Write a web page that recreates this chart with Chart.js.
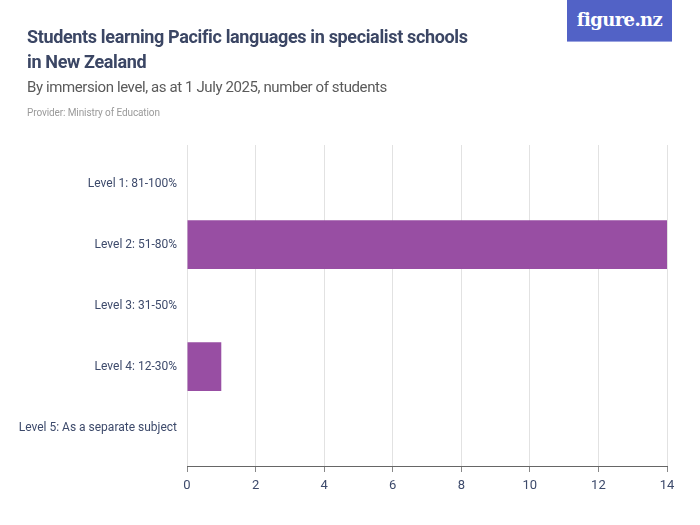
<!DOCTYPE html>
<html>
<head>
<meta charset="utf-8">
<script src="https://cdn.jsdelivr.net/npm/chart.js@4"></script>
<style>
body{margin:0;background:#fff;}
#wrap{position:relative;width:700px;height:525px;overflow:hidden;font-family:"Roboto",sans-serif;}
#title{position:absolute;left:27px;top:24px;font-size:18px;line-height:25px;color:#3b4664;font-weight:bold;letter-spacing:-0.35px;}
#sub{position:absolute;left:27px;top:78px;font-size:15px;color:#5a5a5a;letter-spacing:-0.4px;}
#prov{position:absolute;left:27px;top:107px;font-size:10px;color:#9a9a9a;letter-spacing:-0.1px;}
#logo{position:absolute;left:567px;top:0;width:105px;height:41px;background:#5262c6;border-bottom:1px solid #9aa3e0;color:#fff;font-family:"DejaVu Serif",serif;font-size:18px;font-weight:bold;text-align:center;line-height:40px;letter-spacing:-0.6px;}
#cv{position:absolute;left:0;top:0;}
</style>
</head>
<body>
<div id="wrap">
<canvas id="cv" width="700" height="525"></canvas>
<div id="title">Students learning Pacific languages in specialist schools<br>in New Zealand</div>
<div id="sub">By immersion level, as at 1 July 2025, number of students</div>
<div id="prov">Provider: Ministry of Education</div>
<div id="logo">figure.nz</div>
</div>
<script>
/* data */
const categories=['Level 1: 81-100%','Level 2: 51-80%','Level 3: 31-50%','Level 4: 12-30%','Level 5: As a separate subject'];
const students=[0,14,0,1,0];
const xTicks=[0,2,4,6,8,10,12,14];

const ctx=document.getElementById('cv');

new Chart(ctx,{
type:'bar',
data:{
datasets:[{
label:'Students',
data:students.map((v,i)=>({x:v,y:i})),
backgroundColor:'#984ea3',
barPercentage:0.8,
categoryPercentage:1
}]
},
options:{
indexAxis:'y',
responsive:false,
animation:false,
layout:{padding:{top:145,right:33,left:0,bottom:0}},
plugins:{legend:{display:false},tooltip:{enabled:false}},
scales:{
x:{
type:'linear',min:0,max:14,
afterBuildTicks:s=>{s.ticks=xTicks.map(v=>({value:v}));},
afterFit:s=>{s.height=59;},
grid:{color:'#e2e2e2',tickColor:'#888',tickLength:6},
border:{color:'#666',width:1},
ticks:{color:'#3d4a6b',font:{family:'Roboto, sans-serif',size:13},padding:6,maxRotation:0}
},
y:{
type:'linear',reverse:true,min:-0.632,max:4.631,offset:false,
afterBuildTicks:s=>{s.ticks=categories.map((c,i)=>({value:i}));},
afterFit:s=>{s.width=187;},
grid:{display:false,drawTicks:false,offset:false},
border:{display:false},
ticks:{color:'#3d4a6b',font:{family:'Roboto, sans-serif',size:12},padding:10,
callback:v=>categories[v]}
}
}
}
});
</script>
</body>
</html>
